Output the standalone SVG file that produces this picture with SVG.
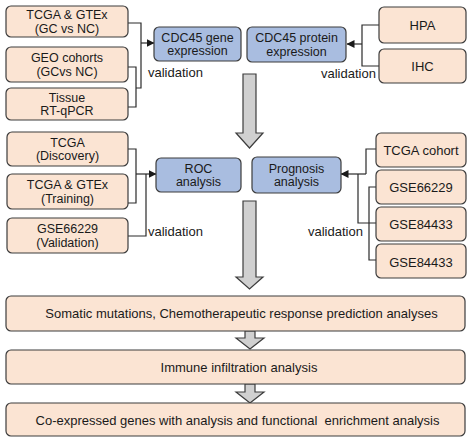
<svg xmlns="http://www.w3.org/2000/svg" width="474" height="442" viewBox="0 0 474 442">
<defs>
<style>
.p{fill:#fbe4d3;stroke:#3c3c3c;stroke-width:1.2}
.b{fill:#a9bde0;stroke:#3c3c3c;stroke-width:1.2}
.t{font-family:"Liberation Sans",Arial,sans-serif;font-size:13px;fill:#1a1a1a;text-anchor:middle}
.t2{font-family:"Liberation Sans",Arial,sans-serif;font-size:12.5px;fill:#1a1a1a;text-anchor:middle}
.v{font-family:"Liberation Sans",Arial,sans-serif;font-size:13px;fill:#1a1a1a}
.c{fill:none;stroke:#2a2a2a;stroke-width:1.2}
.g{fill:#d0d0d0;stroke:#3c3c3c;stroke-width:1.2}
</style>
<marker id="ah" viewBox="0 0 8 8" refX="7.5" refY="4" markerWidth="8" markerHeight="8" markerUnits="userSpaceOnUse" orient="auto">
<path d="M0,0 L8,4 L0,8 Z" fill="#1a1a1a"/>
</marker>
</defs>
<rect width="474" height="442" fill="#ffffff"/>

<g id="connectors">
<polyline class="c" points="128,23 141,23 141,88 136,88"/>
<polyline class="c" points="128,67 136,67 136,107 128,107"/>
<line class="c" x1="141" y1="43" x2="154" y2="43" marker-end="url(#ah)"/>
<polyline class="c" points="379,25 362,25 362,66 379,66"/>
<line class="c" x1="362" y1="44" x2="347" y2="44" marker-end="url(#ah)"/>
<polyline class="c" points="128,149 136,149 136,203 128,203"/>
<polyline class="c" points="128,236 146,236 146,174"/>
<line class="c" x1="136" y1="174" x2="156" y2="174" marker-end="url(#ah)"/>
<polyline class="c" points="376,149 366,149 366,174"/>
<line class="c" x1="366" y1="174" x2="341" y2="174" marker-end="url(#ah)"/>
<polyline class="c" points="358,174 358,223 376,223"/>
<polyline class="c" points="376,187 369,187 369,260 376,260"/>
<polygon class="g" points="243,74 256,74 256,133 263,133 249.5,148 236,133 243,133"/>
<polygon class="g" points="243,201 256,201 256,277 263,277 249.5,289 236,277 243,277"/>
<polygon class="g" points="245,331 255,331 255,338 264,338 250,349 236,338 245,338"/>
<polygon class="g" points="245,384 255,384 255,392 264,392 250,403 236,392 245,392"/>
</g>

<g id="n1"><rect class="p" x="6" y="6" width="122" height="31" rx="5"/><text class="t2" x="67" y="19">TCGA &amp; GTEx</text><text class="t2" x="67" y="32.5">(GC vs NC)</text></g>
<g id="n2"><rect class="p" x="6" y="47" width="122" height="35" rx="5"/><text class="t2" x="67" y="62">GEO cohorts</text><text class="t2" x="67" y="75.5">(GCvs NC)</text></g>
<g id="n3"><rect class="p" x="6" y="88" width="122" height="32" rx="5"/><text class="t2" x="67" y="101.5">Tissue</text><text class="t2" x="67" y="115">RT-qPCR</text></g>
<g id="n4"><rect class="b" x="154" y="27" width="87" height="34" rx="5"/><text class="t2" x="197.5" y="41.5">CDC45 gene</text><text class="t2" x="197.5" y="55">expression</text></g>
<text class="v" x="148" y="77">validation</text>
<g id="n5"><rect class="b" x="247" y="27" width="99" height="35" rx="5"/><text class="t2" x="296.5" y="42">CDC45 protein</text><text class="t2" x="296.5" y="55.5">expression</text></g>
<g id="n6"><rect class="p" x="379" y="7" width="87" height="36" rx="5"/><text class="t" x="422.5" y="29.5">HPA</text></g>
<g id="n7"><rect class="p" x="379" y="49" width="87" height="34" rx="5"/><text class="t" x="422.5" y="70.5">IHC</text></g>
<text class="v" x="321" y="78">validation</text>

<g id="n8"><rect class="p" x="7" y="132" width="121" height="34" rx="5"/><text class="t2" x="67.5" y="146.5">TCGA</text><text class="t2" x="67.5" y="160">(Discovery)</text></g>
<g id="n9"><rect class="p" x="7" y="174" width="121" height="35" rx="5"/><text class="t2" x="67.5" y="189">TCGA &amp; GTEx</text><text class="t2" x="67.5" y="202.5">(Training)</text></g>
<g id="n10"><rect class="p" x="7" y="218" width="121" height="35" rx="5"/><text class="t2" x="67.5" y="233">GSE66229</text><text class="t2" x="67.5" y="246.5">(Validation)</text></g>
<text class="v" x="148" y="235.5">validation</text>
<g id="n11"><rect class="b" x="156" y="158" width="85" height="34" rx="5"/><text class="t2" x="198.5" y="172.5">ROC</text><text class="t2" x="198.5" y="186">analysis</text></g>
<g id="n12"><rect class="b" x="252" y="157" width="89" height="36" rx="5"/><text class="t2" x="296.5" y="172.5">Prognosis</text><text class="t2" x="296.5" y="186">analysis</text></g>
<text class="v" x="308" y="235.5">validation</text>
<g id="n13"><rect class="p" x="376" y="133" width="90" height="34" rx="5"/><text class="t" x="421" y="154.5">TCGA cohort</text></g>
<g id="n14"><rect class="p" x="376" y="170" width="90" height="34" rx="5"/><text class="t" x="421" y="191.5">GSE66229</text></g>
<g id="n15"><rect class="p" x="376" y="207" width="90" height="34" rx="5"/><text class="t" x="421" y="228.5">GSE84433</text></g>
<g id="n16"><rect class="p" x="376" y="244" width="90" height="34" rx="5"/><text class="t" x="421" y="266.5">GSE84433</text></g>

<g id="n17"><rect class="p" x="6" y="296" width="459" height="35" rx="5"/><text class="t" x="241.5" y="317.5">Somatic mutations, Chemotherapeutic response prediction analyses</text></g>
<g id="n18"><rect class="p" x="6" y="350" width="459" height="34" rx="5"/><text class="t" x="239" y="371.5">Immune infiltration analysis</text></g>
<g id="n19"><rect class="p" x="6" y="403" width="459" height="33" rx="5"/><text class="t" x="237.5" y="424.5" xml:space="preserve">Co-expressed genes with analysis and functional  enrichment analysis</text></g>
</svg>
